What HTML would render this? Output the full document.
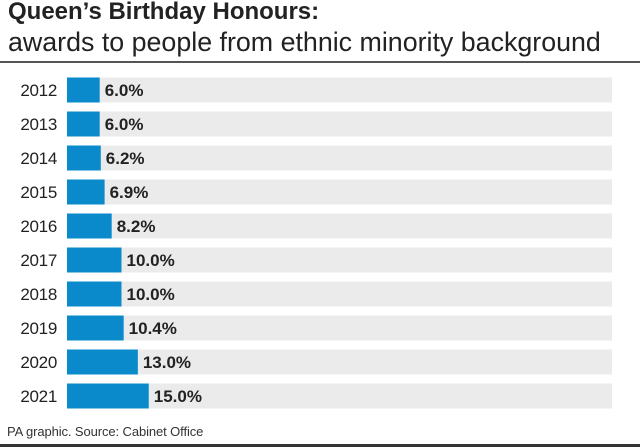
<!DOCTYPE html>
<html><head><meta charset="utf-8"><style>
body{margin:0;background:#fff;width:640px;height:448px;overflow:hidden;font-family:"Liberation Sans",sans-serif;position:relative}
.t{position:absolute;left:8px;color:#222;white-space:nowrap}
</style></head><body>
<div class="t" style="top:-2px;font-size:24px;font-weight:bold;letter-spacing:0px">Queen’s Birthday Honours:</div>
<div class="t" style="top:27px;font-size:26.8px;letter-spacing:0px">awards to people from ethnic minority background</div>
<div style="position:absolute;left:0;top:61px;width:640px;height:2px;background:#555"></div>
<svg id="c" width="640" height="448" style="position:absolute;left:0;top:0"></svg>
<div class="t" style="top:424px;left:7px;font-size:13px;letter-spacing:-0.1px;color:#333">PA graphic. Source: Cabinet Office</div>
<div style="position:absolute;left:0;top:444px;width:640px;height:3px;background:#333"></div>
<script>
const years=["2012","2013","2014","2015","2016","2017","2018","2019","2020","2021"];
const values=[6.0,6.0,6.2,6.9,8.2,10.0,10.0,10.4,13.0,15.0];
const labels=["6.0%","6.0%","6.2%","6.9%","8.2%","10.0%","10.0%","10.4%","13.0%","15.0%"];
const maxVal=100;
const svg=document.getElementById('c');const NS="http://www.w3.org/2000/svg";
const x0=67,x1=612;
const xs=v=>x0+(x1-x0)*v/maxVal;
const yc=i=>90+i*34;
function mk(t,a){const e=document.createElementNS(NS,t);for(const k in a)e.setAttribute(k,a[k]);svg.appendChild(e);return e;}
years.forEach((y,i)=>{
 const g=mk('rect',{x:x0,y:yc(i)-12.5,width:x1-x0,height:25,fill:'#ebebeb'});
 
 
 const b=mk('rect',{x:x0,y:yc(i)-12.5,width:xs(values[i])-x0,height:25,fill:'#0a8acb'});
 
 
 const l=mk('text',{x:57,y:yc(i)+6,'text-anchor':'end','font-size':17,fill:'#222','letter-spacing':'-0.3'});
 l.textContent=y;
 
 
 const v=mk('text',{x:xs(values[i])+5,y:yc(i)+6,'font-size':17,'font-weight':'bold',fill:'#222','letter-spacing':'0'});
 v.textContent=labels[i];
 
 
});
</script>
</body></html>
